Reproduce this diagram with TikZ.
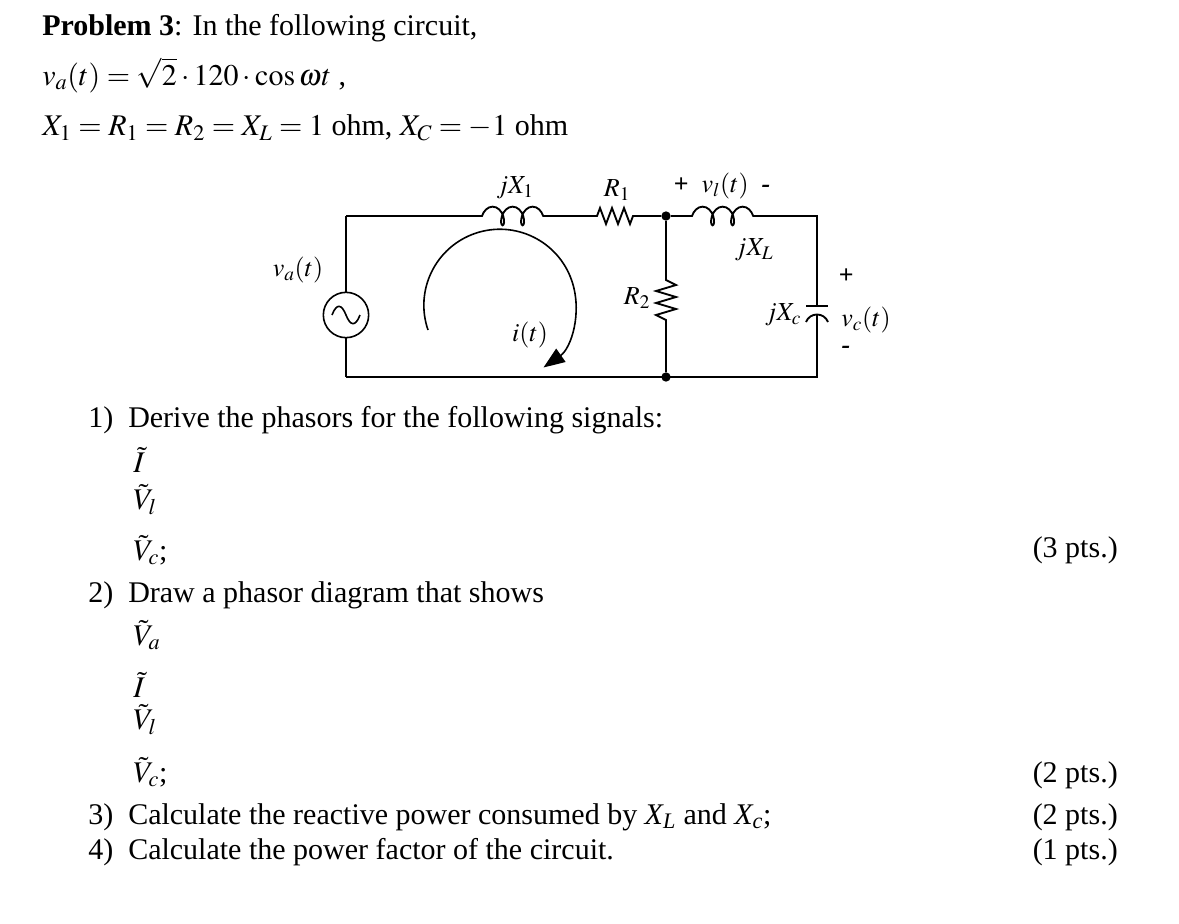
\documentclass[tikz,border=0pt]{standalone}
\usepackage{mathptmx}
\usepackage{fontspec}
\setmainfont{Liberation Serif}
\usetikzlibrary{decorations.pathmorphing,arrows.meta}
\begin{document}
\begin{tikzpicture}[x=0.75pt,y=-0.75pt,
  txt/.style={anchor=west,inner sep=0pt,font=\fontsize{22.5}{26}\selectfont},
  lbl/.style={inner sep=0pt,font=\fontsize{19.5}{22}\selectfont\itshape},
  wire/.style={line width=1.4pt},
  coilp/.style={line width=1.4pt,decorate,decoration={coil,aspect=0.6,amplitude=7pt,segment length=15pt,pre length=3pt,post length=3pt}},
  dot/.style={circle,fill,inner sep=0pt,minimum size=7pt}]
\useasboundingbox (0,0) rectangle (1179,924);
\node[txt] (p) at (42,28) {\textbf{Problem 3}: In the following circuit,};
\node[txt] (va) at (42,75) {$v_a(t)=\sqrt{2}\cdot 120\cdot\cos\omega t$ ,};
\node[txt] (xs) at (42,128) {$X_1=R_1=R_2=X_L=1$ ohm, $X_C=-1$ ohm};
% circuit
\coordinate (tl) at (346,216); \coordinate (tr) at (817,216);
\coordinate (bl) at (346,377); \coordinate (br) at (817,377);
\node[dot] (n1) at (666,216) {}; \node[dot] (n2) at (666,377) {};
\node[circle,draw,line width=1.2pt,minimum size=34pt,inner sep=0pt] (src) at (346,315) {};
\draw[line width=1.2pt] (332,315) .. controls (337,302) and (342,305) .. (346,315) .. controls (350,325) and (355,328) .. (360,315);
\draw[wire] (tl) -- (src.north); \draw[wire] (bl) -- (src.south);
\coordinate (a1) at (478,216); \coordinate (a2) at (550,216);
\draw[wire] (tl) -- (a1); \draw[coilp] (a1) -- (a2);
\draw[wire] (a2) -- (597,216) -- (600,208) -- (606,224) -- (612,208) -- (618,224) -- (624,208) -- (630,224) -- (633,216) -- (n1);
\coordinate (b1) at (688,216); \coordinate (b2) at (762,216);
\draw[wire] (n1) -- (b1); \draw[coilp] (b1) -- (b2); \draw[wire] (b2) -- (tr) -- (817,306);
\draw[wire] (n1) -- (666,280) -- (676,285) -- (656,291) -- (676,297) -- (656,303) -- (676,309) -- (656,315) -- (666,320) -- (n2);
\draw[wire] (806,306) -- (828,306);
\draw[wire] (806,322) .. controls (810,312) and (824,312) .. (828,322);
\draw[wire] (817,314) -- (br) -- (bl);
\draw[wire] (n2) -- (br);
\draw[line width=1.2pt,-{Triangle[length=16pt,width=12pt]}] (428,330) arc[start angle=161,end angle=415,radius=76];
\node[lbl] at (515,188) {$jX_1$};
\node[lbl] at (617,190) {$R_1$};
\node[lbl] at (722,186) {\textbf{+}\enspace $v_l(t)$\enspace \textbf{-}};
\node[lbl] at (754,250) {$jX_L$};
\node[lbl] at (298,270) {$v_a(t)$};
\node[lbl] at (637,298) {$R_2$};
\node[lbl] at (530,335) {$i(t)$};
\node[lbl] at (783,315) {$jX_c$};
\node[lbl] at (846,276) {\textbf{+}};
\node[lbl] at (866,320) {$v_c(t)$};
\node[lbl] at (846,350) {\textbf{-}};
% questions
\node[txt] (q1) at (88,420) {1)\enspace Derive the phasors for the following signals:};
\node[txt] at (133,460) {$\tilde I$};
\node[txt] at (133,500) {$\tilde V_l$};
\node[txt] at (133,550) {$\tilde V_c$;};
\node[txt,anchor=east] at (1118,550) {(3 pts.)};
\node[txt] (q2) at (88,595) {2)\enspace Draw a phasor diagram that shows};
\node[txt] at (133,635) {$\tilde V_a$};
\node[txt] at (133,685) {$\tilde I$};
\node[txt] at (133,720) {$\tilde V_l$};
\node[txt] at (133,772) {$\tilde V_c$;};
\node[txt,anchor=east] at (1118,775) {(2 pts.)};
\node[txt] (q3) at (88,817) {3)\enspace Calculate the reactive power consumed by \textit{X\textsubscript{L}} and \textit{X\textsubscript{c}};};
\node[txt,anchor=east] at (1118,817) {(2 pts.)};
\node[txt] (q4) at (88,852) {4)\enspace Calculate the power factor of the circuit.};
\node[txt,anchor=east] at (1118,852) {(1 pts.)};
\end{tikzpicture}
\end{document}
